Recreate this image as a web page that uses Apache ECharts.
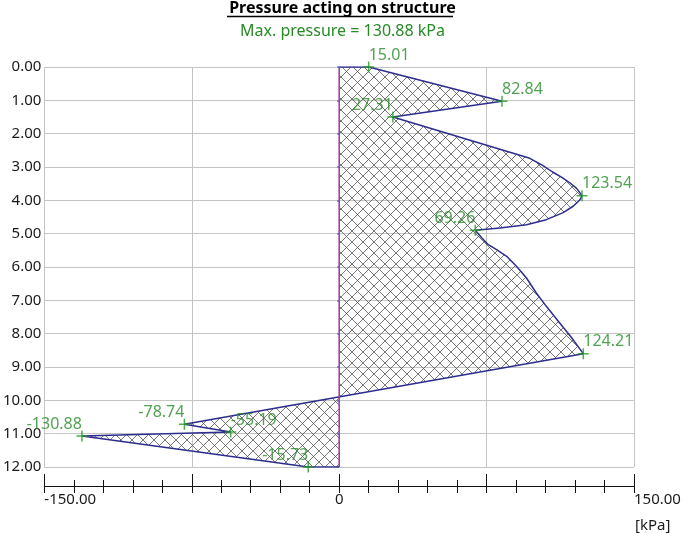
<!DOCTYPE html>
<html>
<head>
<meta charset="utf-8">
<script src="https://cdn.jsdelivr.net/npm/echarts@6/dist/echarts.min.js"></script>
<style>
  html, body { margin: 0; padding: 0; background: #fff; }
  #main { width: 685px; height: 533px; }
</style>
</head>
<body>
<div id="main"></div>
<script>
// pressure diagram outline, [pressure kPa, depth m], in drawing order
const outline = [
  [0, 0], [15.01, 0], [82.84, 1.03], [27.31, 1.5],
  [97.0, 2.74], [103.5, 2.95], [108.6, 3.15], [113.5, 3.32], [117.5, 3.48], [120.8, 3.64], [123.54, 3.86],
  [122.4, 3.99], [119.2, 4.17], [114.0, 4.37], [105.4, 4.58], [95.3, 4.73], [81.8, 4.83], [69.26, 4.9],
  [72.5, 5.12], [75.9, 5.33], [80.1, 5.48], [85.2, 5.68], [90.2, 5.98], [95.3, 6.33], [100.3, 6.78],
  [105.4, 7.18], [112.1, 7.67], [118.9, 8.17], [124.21, 8.6],
  [-78.74, 10.72], [-55.19, 10.95], [-130.88, 11.07], [-15.73, 12.0], [0, 12]
];
// labelled extreme values
const peaks = [
  [15.01, 0], [82.84, 1.03], [27.31, 1.5], [123.54, 3.86], [69.26, 4.9],
  [124.21, 8.6], [-78.74, 10.72], [-55.19, 10.95], [-130.88, 11.07], [-15.73, 12.0]
];
const peakSide = ['right', 'right', 'left', 'right', 'left', 'right', 'left', 'right', 'left', 'left'];
// structure line
const structure = [[0, 0], [0, 12]];

const depthMin = 0, depthMax = 12, depthStep = 1;
const pMin = -150, pMax = 150, pStep = 75, pMinorSplit = 5;

const maxPressure = Math.max.apply(null, peaks.map(p => Math.abs(p[0])));

const green = '#268a26';
const font = 'Noto Sans';

// cross hatch tile
const tile = document.createElement('canvas');
tile.width = 11; tile.height = 11;
const tc = tile.getContext('2d');
tc.strokeStyle = '#555';
tc.lineWidth = 0.8;
tc.beginPath();
tc.moveTo(-1, -1); tc.lineTo(12, 12);
tc.moveTo(12, -1); tc.lineTo(-1, 12);
tc.stroke();

const myChart = echarts.init(document.getElementById('main'));

const bottomAxisBase = {
  type: 'value',
  gridIndex: 0,
  position: 'bottom',
  offset: 19,
  min: pMin,
  max: pMax,
  interval: pStep,
  splitLine: { show: false },
  axisLine: { show: true, onZero: false, lineStyle: { color: '#111', width: 1 } }
};

const option = {
  animation: false,
  backgroundColor: '#fff',
  title: {
    text: 'Pressure acting on structure',
    subtext: 'Max. pressure = ' + maxPressure.toFixed(2) + ' kPa',
    left: 'center',
    top: 0,
    padding: [0, 5, 0, 5],
    itemGap: 5,
    textStyle: { fontFamily: font, fontSize: 16, fontWeight: 'bold', color: '#000', lineHeight: 17 },
    subtextStyle: { fontFamily: font, fontSize: 16, color: green, lineHeight: 18 }
  },
  graphic: [
    { type: 'line', shape: { x1: 227, y1: 16.5, x2: 453, y2: 16.5 }, style: { stroke: '#000', lineWidth: 1.3 } }
  ],
  grid: { left: 41, right: 51, top: 67, bottom: 65 },
  xAxis: [
    {
      type: 'value',
      min: pMin,
      max: pMax,
      interval: pStep,
      axisLine: { show: false },
      axisTick: { show: false },
      axisLabel: { show: false },
      splitLine: { show: true, lineStyle: { color: '#c4c4c4', width: 1 } }
    },
    Object.assign({}, bottomAxisBase, {
      axisTick: { show: true, inside: false, length: 7, lineStyle: { color: '#111' } },
      minorTick: { show: true, splitNumber: pMinorSplit, length: 7, lineStyle: { color: '#111' } },
      axisLabel: {
        show: true,
        margin: 6,
        fontFamily: font,
        fontSize: 15,
        color: '#1a1a1a',
        alignMinLabel: 'left',
        alignMaxLabel: 'left',
        formatter: function (v) {
          if (v === pMin || v === pMax) return v.toFixed(2);
          if (v === 0) return '0';
          return '';
        }
      },
      name: '[kPa]',
      nameLocation: 'end',
      nameGap: 1,
      nameTextStyle: { fontFamily: font, fontSize: 15, color: '#1a1a1a', align: 'left', verticalAlign: 'top', padding: [32, 0, 0, 0] }
    }),
    Object.assign({}, bottomAxisBase, {
      axisTick: { show: true, inside: true, length: 12, lineStyle: { color: '#111' } },
      minorTick: { show: true, splitNumber: pMinorSplit, length: 6, lineStyle: { color: '#111' } },
      axisLabel: { show: false }
    })
  ],
  yAxis: {
    type: 'value',
    inverse: true,
    min: depthMin,
    max: depthMax,
    interval: depthStep,
    axisLine: { show: true, lineStyle: { color: '#b4b4b4' } },
    axisTick: { show: true, length: 2, lineStyle: { color: '#1e88e5', width: 1.5 } },
    axisLabel: {
      margin: 3,
      fontFamily: font,
      fontSize: 15,
      color: '#1a1a1a',
      formatter: function (v) { return v.toFixed(2); }
    },
    splitLine: { show: true, lineStyle: { color: '#c4c4c4', width: 1 } }
  },
  series: [
    {
      type: 'custom',
      coordinateSystem: 'cartesian2d',
      xAxisIndex: 0,
      data: outline,
      encode: { x: 0, y: 1 },
      silent: true,
      z: 1,
      renderItem: function (params, api) {
        if (params.dataIndex !== 0) return;
        const pts = outline.map(function (p) { return api.coord(p); });
        return {
          type: 'polygon',
          shape: { points: pts },
          style: { fill: { image: tile, repeat: 'repeat' }, stroke: 'none' }
        };
      }
    },
    {
      type: 'line',
      xAxisIndex: 0,
      data: outline,
      showSymbol: false,
      symbol: 'none',
      lineStyle: { color: '#2d2d8f', width: 1.5 },
      z: 3
    },
    {
      type: 'line',
      xAxisIndex: 0,
      data: structure,
      symbol: 'none',
      lineStyle: { color: '#9a3c9e', width: 1.5 },
      z: 4
    },
    {
      type: 'scatter',
      xAxisIndex: 0,
      symbol: 'path://M0,6H12M6,0V12',
      symbolSize: 11,
      itemStyle: { color: 'none', borderColor: '#1f9a1f', borderWidth: 1.5 },
      z: 5,
      data: peaks.map(function (p, i) {
        return {
          value: p,
          label: {
            show: true,
            position: 'top',
            distance: -4,
            align: peakSide[i] === 'right' ? 'left' : 'right',
            formatter: p[0].toFixed(2),
            fontFamily: font,
            fontSize: 16,
            color: green
          }
        };
      })
    }
  ]
};

myChart.setOption(option);
</script>
</body>
</html>
